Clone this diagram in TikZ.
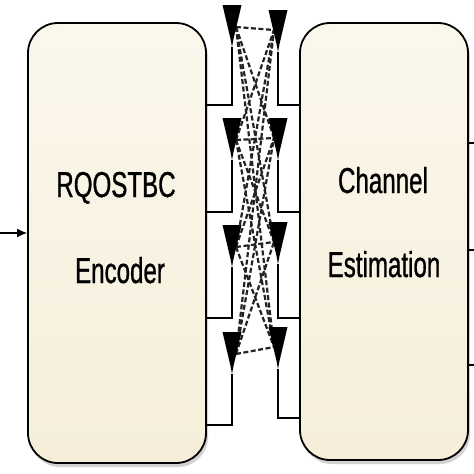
\documentclass[tikz,border=0pt]{standalone}
\usepackage{fontspec}
\setmainfont[FakeStretch=0.67,FakeBold=0.8]{Liberation Sans}
\usetikzlibrary{arrows.meta,shadows}
\definecolor{creamtop}{RGB}{251,247,236}
\definecolor{creambot}{RGB}{246,238,218}
\definecolor{dashgray}{RGB}{35,35,35}
\begin{document}
\begin{tikzpicture}[x=1pt,y=-1pt,
  blockbox/.style={draw=black,line width=1.8pt,rounded corners=30pt,
    top color=creamtop,bottom color=creambot,
    drop shadow={opacity=0.35,shadow xshift=2pt,shadow yshift=-4pt}},
  lbl/.style={font=\fontsize{36}{40}\selectfont,text=black,inner sep=0pt,anchor=base},
  wire/.style={draw=black,line width=1.5pt},
  radio/.style={draw=dashgray,line width=2.2pt,dash pattern=on 5pt off 2.5pt},
  antfill/.style={fill=black}]
\useasboundingbox (0,0) rectangle (474,474);
\fill[white] (0,0) rectangle (474,474);
% blocks
\node[blockbox,minimum width=178pt,minimum height=440pt] (enc) at (117,243) {};
\node[blockbox,minimum width=168pt,minimum height=437pt] (chan) at (384,241.5) {};
\node[lbl] (t1) at (116,197) {RQOSTBC};
\node[lbl] (t2) at (120,283) {Encoder};
\node[lbl] (t3) at (383,193) {Channel};
\node[lbl] (t4) at (384,277) {Estimation};
% input arrow
\coordinate (in) at (0,233);
\draw[line width=1.4pt,-{Latex[length=10pt,width=9pt]}] (in) -- (enc.west |- in);
% output ticks
\foreach \k/\y in {1/143,2/250,3/365}{
  \coordinate (o\k) at (474,\y);
  \draw[wire] (chan.east |- o\k) -- (o\k);
}
% antennas coordinates
\foreach \i/\t/\w in {1/5/105,2/118/212,3/225/318,4/332/425}{
  \coordinate (LA\i) at (232,\t);
  \coordinate (LT\i) at (232,\t+42);
  \coordinate (LC\i) at (236,\t+22);
  \coordinate (LW\i) at (206,\w);
}
\foreach \i/\t/\w in {1/10/105,2/118/212,3/222/318,4/327/418}{
  \coordinate (RA\i) at (278,\t);
  \coordinate (RT\i) at (278,\t+42);
  \coordinate (RC\i) at (274,\t+20);
  \coordinate (RW\i) at (300,\w);
}
% wires
\foreach \i in {1,...,4}{
  \draw[wire] (LT\i) |- (LW\i);
  \draw[wire] (RT\i) |- (RW\i);
}
% radio links
\foreach \i in {1,...,4}{
  \foreach \j in {1,...,4}{
    \draw[radio] (LC\i) -- (RC\j);
  }
}
% antenna symbols
\foreach \i in {1,...,4}{
  \fill[antfill] (LA\i) ++(-9.5,0) -- ++(19,0) -- ++(-8,34) -- (LT\i) -- ++(-1.5,-8) -- cycle;
  \fill[antfill] (RA\i) ++(-9.5,0) -- ++(19,0) -- ++(-8,34) -- (RT\i) -- ++(-1.5,-8) -- cycle;
}
\end{tikzpicture}
\end{document}
